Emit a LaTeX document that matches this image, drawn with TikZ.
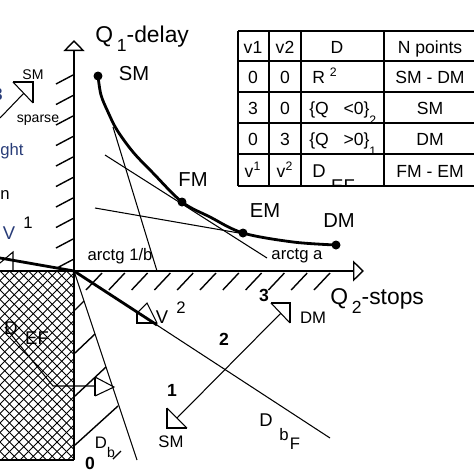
\documentclass[tikz,border=0pt]{standalone}
\usepackage{fontspec}
\setmainfont{Liberation Sans}
\usetikzlibrary{arrows.meta}
\definecolor{inkblue}{RGB}{40,60,120}

\begin{document}
\begin{tikzpicture}[x=0.02cm, y=-0.02cm,
        axis/.style={line width=1.6pt, -{Triangle[open, width=0.42cm, length=0.22cm, line width=0.8pt]}},
        heavy/.style={line width=1.6pt},
        light/.style={line width=0.6pt},
        hatch/.style={line width=0.8pt},
        dot/.style={circle, fill, inner sep=0pt, minimum size=0.18cm},
        big/.style={font=\fontsize{11.5}{13}\selectfont, inner sep=0pt},
        huge/.style={font=\fontsize{13}{15}\selectfont, inner sep=0pt},
        mid/.style={font=\fontsize{9.5}{11}\selectfont, inner sep=0pt},
        cell/.style={font=\fontsize{10}{12}\selectfont, inner sep=0pt, anchor=base},
        small/.style={font=\fontsize{8}{9}\selectfont, inner sep=0pt},
        num/.style={font=\fontsize{10}{11}\selectfont\bfseries, inner sep=0pt}]
    \useasboundingbox (0,0) rectangle (474,474);

    % forbidden domain D_EF
    \begin{scope}
        \clip (0,271) rectangle (74,460);
        \foreach \c in {-190,-180.5,...,80} {
            \draw[line width=0.45pt] (\c,271) -- ++(190,190);
            \draw[line width=0.45pt] (\c,461) -- ++(190,-190);
        }
    \end{scope}
    \draw[light] (0,271) -- (74,271);
    \draw[heavy] (0,460) -- (74,460);

    % axes
    \coordinate (O) at (74,271);
    \coordinate (Q1) at (74,40);
    \coordinate (Q2) at (364,271);
    \draw[axis] (74,460) -- (Q1);
    \draw[axis] (O) -- (Q2);
    \foreach \y in {75,95.5,...,266} \draw[hatch] (73,\y) -- ++(-17,9);
    \foreach \x in {102,124.8,...,336} \draw[hatch] (\x,273) -- ++(-16,17);
    \draw[hatch] (75,310) -- (84,301);
    \draw[hatch] (75,353) -- (95,334);
    \draw[hatch] (75,396) -- (106,367);
    \draw[hatch] (75,445) -- (118,406);
    \draw[hatch] (113,459) -- (121,451);

    \node[huge, anchor=base west] (q1lbl) at (95,42) {Q\,\raisebox{-0.8ex}{\fontsize{10}{10}\selectfont 1}-delay};
    \node[huge, anchor=base west] (q2lbl) at (330,304) {Q\,\raisebox{-0.8ex}{\fontsize{10}{10}\selectfont 2}-stops};

    % Pareto curve
    \node[dot] (SM) at (98,76) {};
    \node[dot] (FM) at (182,202) {};
    \node[dot] (EM) at (243,233) {};
    \node[dot] (DM) at (336,245) {};
    \draw[line width=1.6pt] plot[smooth, tension=0.55] coordinates {(98,76) (101,95) (108,112) (117,130) (133,152) (153,173) (182,202) (210,217) (243,233) (293,242) (336,245)};
    \node[big] (smlbl) at (134,74) {SM};
    \node[big] (fmlbl) at (193,180) {FM};
    \node[big] (emlbl) at (265,211) {EM};
    \node[big] (dmlbl) at (339,221) {DM};

    % tangents
    \draw[light] (113,127) -- (157,271);
    \draw[light] (105,155) -- (267,258);
    \draw[light] (95,208) -- (262,237);
    \node[mid] (arcb) at (120,256) {arctg 1/b};
    \node[mid] (arca) at (297,256) {arctg a};

    % lines D_b and D_bF
    \coordinate (Db) at (137,460);
    \coordinate (DbF) at (330,438);
    \draw[light] (O) -- (Db);
    \draw[light] (O) -- (DbF);
    \draw[heavy] (O) -- (157,325);
    \node[mid] (dbd) at (101,443) {D};
    \node[small] (dbb) at (111,452) {b};
    \node[num] (zero) at (90,463) {0};
    \node[mid, font=\fontsize{10.5}{12}\selectfont] (dbfd) at (266,420) {D};
    \node[mid] (dbfb) at (284,435) {b};
    \node[mid] (dbff) at (295,444) {F};

    % v2 marker
    \draw[light] (137,313) -- (147,303) -- (157,323);
    \draw[heavy] (137,313) -- (137,323) -- (157,323);
    \node[mid, font=\fontsize{10.5}{12}\selectfont] (v2) at (162,317) {V};
    \node[mid] (v2sup) at (181,308) {2};

    % v1 marker
    \draw[heavy] (O) -- (0,258);
    \draw[light] (0,263) -- (13,252) -- (13,271);
    \node[mid, font=\fontsize{10.5}{12}\selectfont, text=inkblue] (v1) at (9,233) {V};
    \node[mid] (v1sup) at (28,223) {1};

    % D_EF marker
    \coordinate (ef1) at (5,327);
    \coordinate (ef2) at (53,386);
    \coordinate (ef3) at (95,386);
    \draw[light] (ef1) -- (ef2) -- (ef3);
    \draw[light] (95,377) -- (114,387) -- (95,396);
    \draw[heavy] (95,377) -- (95,396);
    \node[mid, font=\fontsize{10.5}{12}\selectfont] (efd) at (11,328) {D};
    \node[mid, font=\fontsize{10.5}{12}\selectfont] (efe) at (37,338) {EF};

    % moves 1 - 2 - 3
    \coordinate (smm) at (177,418);
    \coordinate (dmm) at (281,313);
    \draw[light] (167,408) -- (187,428);
    \draw[heavy] (167,408) -- (167,428) -- (187,428);
    \draw[light] (271,303) -- (290,323);
    \draw[heavy] (271,303) -- (290,303) -- (290,323);
    \draw[light] (smm) -- (dmm);
    \node[num] (n1) at (172,390) {1};
    \node[num] (n2) at (224,339) {2};
    \node[num] (n3) at (264,295) {3};
    \node[mid] (smb) at (171,442) {SM};
    \node[mid] (dmb) at (313,318) {DM};

    % left side (cut)
    \coordinate (tl) at (0,118);
    \coordinate (tlm) at (24,93);
    \draw[light] (tl) -- (tlm);
    \draw[light] (13,82) -- (33,103);
    \draw[heavy] (13,82) -- (33,82) -- (33,103);
    \node[small] (smt) at (33,75) {SM};
    \node[small] (sparse) at (38,120) {sparse};
    \node[num, text=inkblue, anchor=east] (frag) at (3,94) {3};
    \node[mid, text=inkblue, anchor=west] (ght) at (0,151) {ght};
    \node[mid, anchor=west] (nn) at (0,195) {n};

    % table
    \begin{scope}
        \clip (238,31) rectangle (480,186);
        \foreach \r/\a/\b/\d in {53/v1/v2/N points, 83/0/0/SM - DM, 114/3/0/SM, 145/0/3/DM, 177/v\textsuperscript{1}/v\textsuperscript{2}/FM - EM} {
            \node[cell] at (253,\r) {\a};
            \node[cell] at (285,\r) {\b};
            \node[cell] at (430,\r) {\d};
        }
        \node[cell] (c1) at (337,53) {D};
        \node[cell, anchor=base west] (c2) at (312,83) {R~\textsuperscript{2}};
        \node[cell, anchor=base west] (c3) at (309,114) {\{Q~~~<0\}\raisebox{-1.1ex}{\fontsize{7}{7}\selectfont 2}};
        \node[cell, anchor=base west] (c4) at (309,145) {\{Q~~~>0\}\raisebox{-1.1ex}{\fontsize{7}{7}\selectfont 1}};
        \node[cell, font=\fontsize{10.5}{12}\selectfont, anchor=base west] (c5c) at (312,177) {D};
        \node[cell, font=\fontsize{10.5}{12}\selectfont] (c5d) at (343,192) {EF};
    \end{scope}
    \foreach \y in {31,61,92,123,154,186} \draw[line width=1.3pt] (238,\y) -- (480,\y);
    \foreach \x in {238,269,301,384} \draw[line width=1.3pt] (\x,31) -- (\x,186);
\end{tikzpicture}
\end{document}
